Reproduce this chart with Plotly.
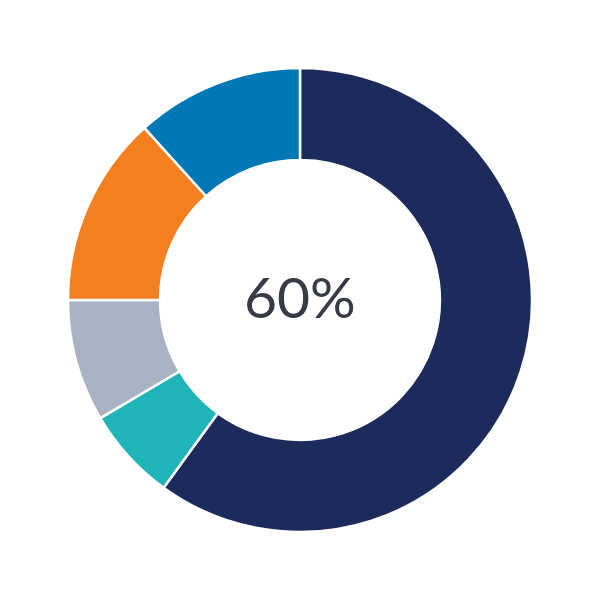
import plotly.graph_objects as go

labels = ["Navy", "Teal", "Gray", "Orange", "Blue"]
values = [60, 6.5, 8.5, 13.3, 11.7]
colors = ["#1c2b5b", "#1fb4b7", "#a8b2c2", "#f37f21", "#0177b5"]
center_text = "60%"

# the page body has an 8px margin, so pull the donut back by 8px
off = 8 / 600

fig = go.Figure(
    go.Pie(
        labels=labels,
        values=values,
        hole=0.603,
        sort=False,
        direction="clockwise",
        rotation=0,
        marker=dict(colors=colors, line=dict(color="white", width=2.5)),
        textinfo="none",
        hoverinfo="label+percent",
        domain=dict(x=[0.1133 - off, 0.8867 - off], y=[0.1133 + off, 0.8867 + off]),
    )
)

fig.add_annotation(
    text=center_text,
    x=0.5 - off,
    y=0.5 + off,
    xref="paper",
    yref="paper",
    showarrow=False,
    yshift=4,
    font=dict(family="Lato", size=57, color="#363c45"),
)

fig.update_layout(
    width=600,
    height=600,
    margin=dict(l=0, r=0, t=0, b=0),
    showlegend=False,
    paper_bgcolor="white",
    plot_bgcolor="white",
)

fig.write_html("out.html")
